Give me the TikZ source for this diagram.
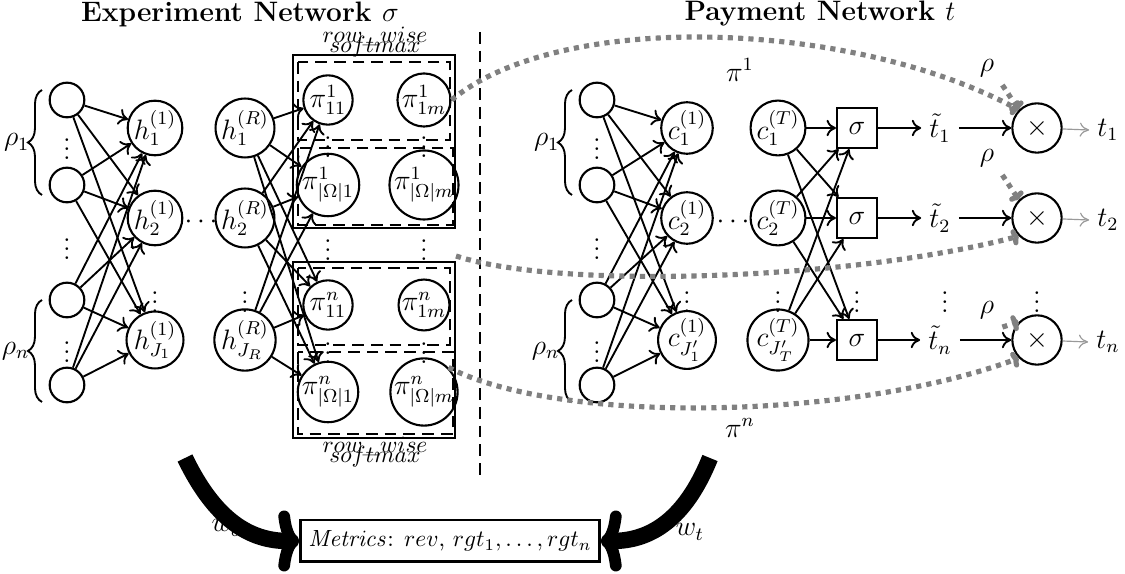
\documentclass[tikz,border=0pt]{standalone}
\usetikzlibrary{arrows.meta,decorations.pathreplacing,calc}
\begin{document}
\begin{tikzpicture}[x=0.015cm,y=-0.015cm,font=\large,
  neu/.style={circle,draw,line width=0.9pt,minimum size=0.74cm,inner sep=0pt},
  inp/.style={circle,draw,line width=0.9pt,minimum size=0.52cm,inner sep=0pt},
  sq/.style={draw,line width=0.9pt,minimum size=0.6cm,inner sep=0pt},
  ed/.style={-{To[length=4pt,width=7pt]},line width=0.8pt},
  gr/.style={-{To[length=4pt,width=6pt]},gray!80,line width=0.5pt},
  gd/.style={gray,line width=2.2pt,dash pattern=on 2.2pt off 2.2pt,-{To[length=3pt,width=7pt]}},
  dbox/.style={draw,dashed,line width=1pt,dash pattern=on 5pt off 3pt},
  bigarr/.style={line width=7pt,-{To[length=9pt,width=26pt,line width=5pt]}},
  sm/.style={align=center,inner sep=0pt,font=\normalsize}]
\useasboundingbox (0,0) rectangle (1125,574);
% titles
\node at (240,14) {\textbf{Experiment Network $\sigma$}};
\node at (820,14) {\textbf{Payment Network $t$}};
\draw[line width=1pt,dash pattern=on 5pt off 3pt] (480,32) -- (480,478);
% ---------- left network
\foreach \n/\y in {1/100,2/185,3/300,4/385}{\node[inp] (a\n) at (67,\y) {};}
\foreach \y in {142,242,345}{\node at (67,\y) {$\vdots$};}
\draw[decorate,decoration={brace,amplitude=6pt},line width=0.8pt] (42,195) -- (42,90) node[midway,left=4pt,inner sep=1pt] {$\rho_1$};
\draw[decorate,decoration={brace,amplitude=6pt},line width=0.8pt] (42,402) -- (42,300) node[midway,left=4pt,inner sep=1pt] {$\rho_n$};
\node[neu] (h1) at (155,128) {$h^{(1)}_1$};
\node[neu] (h2) at (155,218) {$h^{(1)}_2$};
\node[neu] (h3) at (155,340) {$h^{(1)}_{J_1}$};
\node[neu] (r1) at (245,128) {$h^{(R)}_1$};
\node[neu] (r2) at (245,218) {$h^{(R)}_2$};
\node[neu] (r3) at (245,340) {$h^{(R)}_{J_R}$};
\node at (155,295) {$\vdots$};
\node at (245,295) {$\vdots$};
\node at (201,222) {$\cdots$};
\foreach \i in {1,2,3,4}{\foreach \j in {1,2,3}{\draw[ed] (a\i) -- (h\j);}}
% pi nodes
\draw[line width=0.5pt] (293,55) rectangle (455,228);
\draw[line width=0.5pt] (293,262) rectangle (455,438);
\draw[dbox] (298,62) rectangle (450,140);
\draw[dbox] (298,148) rectangle (453,225);
\draw[dbox] (298,268) rectangle (450,345);
\draw[dbox] (298,352) rectangle (453,434);
\node[neu] (p1) at (328,100) {$\pi^1_{11}$};
\node[neu] (q1) at (424,100) {$\pi^1_{1m}$};
\node[neu] (p2) at (328,185) {$\pi^1_{|\Omega|1}$};
\node[neu] (q2) at (424,185) {$\pi^1_{|\Omega|m}$};
\node[neu] (p3) at (328,305) {$\pi^n_{11}$};
\node[neu] (q3) at (424,305) {$\pi^n_{1m}$};
\node[neu] (p4) at (328,392) {$\pi^n_{|\Omega|1}$};
\node[neu] (q4) at (424,392) {$\pi^n_{|\Omega|m}$};
\foreach \x in {328,424}{\node at (\x,140) {$\vdots$};\node at (\x,243) {$\vdots$};\node at (\x,346) {$\vdots$};}
\foreach \i in {1,2,3}{\foreach \j in {1,2,3,4}{\draw[ed] (r\i) -- (p\j);}}
\node[sm] at (375,42) {$row\_wise$\\[-8pt]$softmax$};
\node[sm] at (375,452) {$row\_wise$\\[-8pt]$softmax$};
% ---------- right network
\foreach \n/\y in {1/100,2/185,3/300,4/385}{\node[inp] (b\n) at (597,\y) {};}
\foreach \y in {142,242,345}{\node at (597,\y) {$\vdots$};}
\draw[decorate,decoration={brace,amplitude=6pt},line width=0.8pt] (572,195) -- (572,90) node[midway,left=4pt,inner sep=1pt] {$\rho_1$};
\draw[decorate,decoration={brace,amplitude=6pt},line width=0.8pt] (572,402) -- (572,300) node[midway,left=4pt,inner sep=1pt] {$\rho_n$};
\node[neu] (c1) at (687,128) {$c^{(1)}_1$};
\node[neu] (c2) at (687,218) {$c^{(1)}_2$};
\node[neu] (c3) at (687,340) {$c^{(1)}_{J_1'}$};
\node[neu] (d1) at (778,128) {$c^{(T)}_1$};
\node[neu] (d2) at (778,218) {$c^{(T)}_2$};
\node[neu] (d3) at (778,340) {$c^{(T)}_{J_T'}$};
\node at (687,295) {$\vdots$};
\node at (778,295) {$\vdots$};
\node at (733,222) {$\cdots$};
\foreach \i in {1,2,3,4}{\foreach \j in {1,2,3}{\draw[ed] (b\i) -- (c\j);}}
\foreach \j/\y in {1/128,2/218,3/340}{
  \node[sq] (s\j) at (857,\y) {$\sigma$};
  \node[neu] (x\j) at (1037,\y) {$\times$};
}
\node (t1) at (940,128) {$\tilde t_1$};
\node (t2) at (940,218) {$\tilde t_2$};
\node (t3) at (940,340) {$\tilde t_n$};
\node (o1) at (1108,130) {$t_1$};
\node (o2) at (1108,220) {$t_2$};
\node (o3) at (1108,342) {$t_n$};
\foreach \i in {1,2,3}{\foreach \j in {1,2,3}{\draw[ed] (d\i) -- (s\j);}}
\foreach \j in {1,2,3}{
  \draw[ed] (s\j) -- (t\j.west);
  \draw[ed] (t\j.east) -- (x\j);
  \draw[gr] (x\j) -- (o\j.west);
}
\foreach \x in {857,945,1037}{\node at (\x,295) {$\vdots$};}
\foreach \j/\y in {1/68,2/158,3/310}{
  \node (rho\j) at (987,\y) {$\rho$};
  \draw[gd] (rho\j.south east) -- (x\j.north west);
}
% gray curves
\draw[gd] (q1.east) .. controls (560,10) and (850,20) .. (x1.north west);
\draw[gd] (456,256) .. controls (560,290) and (850,280) .. (x2.south west);
\draw[gd] (q4.north east) .. controls (560,425) and (850,420) .. (x3.south west);
\node at (740,70) {$\pi^1$};
\node at (740,428) {$\pi^n$};
% bottom
\node[draw,line width=1pt,minimum width=4.4cm,minimum height=0.62cm,font=\normalsize] (m) at (450,541) {$\mathit{Metrics}$: $rev$, $rgt_1,\ldots,rgt_n$};
\draw[bigarr] (185,458) .. controls (215,520) and (250,541) .. (m.west);
\draw[bigarr] (710,458) .. controls (685,520) and (650,541) .. (m.east);
\node at (228,528) {$w_\sigma$};
\node at (690,532) {$w_t$};
\end{tikzpicture}
\end{document}
